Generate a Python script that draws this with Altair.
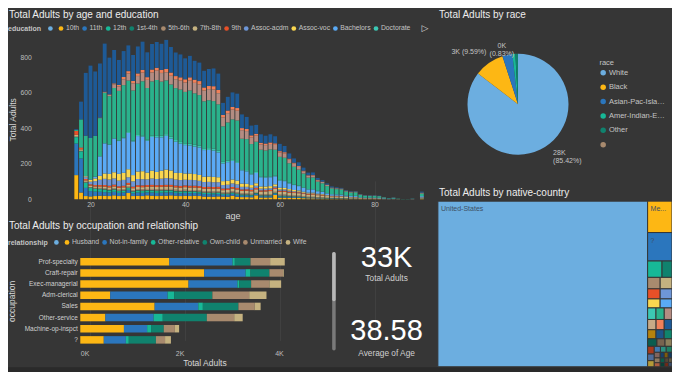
import math
import altair as alt
import pandas as pd

# ------------------------------------------------------------------ data
ages = list(range(17, 91))
education = ["", "10th", "11th", "12th", "1st-4th", "5th-6th", "7th-8th", "9th",
             "Assoc-acdm", "Assoc-voc", "Bachelors", "Doctorate", "HS-grad",
             "Masters", "Preschool", "Prof-school", "Some-college"]

edu_10th = [136, 38, 18, 16, 18, 20, 20, 18, 22, 18, 20, 35, 18, 20, 18, 22, 20, 18, 20, 20,
            22, 20, 18, 20, 18, 20, 18, 15, 15, 14, 16, 15, 14, 20, 14, 12, 12, 11, 22, 10,
            10, 10, 24, 9, 9, 8, 7, 7, 6, 5, 5, 4, 4, 3, 2, 2, 2, 2, 1, 1,
            1, 1, 1, 1, 1, 0, 0, 0, 0, 0, 0, 0, 0, 2]
edu_11th = [178, 192, 46, 30, 25, 22, 20, 20, 20, 18, 18, 18, 16, 18, 18, 17, 18, 18, 17, 18,
            17, 16, 16, 16, 16, 15, 15, 14, 14, 14, 13, 10, 11, 11, 11, 9, 9, 8, 8, 7,
            7, 7, 7, 6, 6, 5, 5, 4, 4, 3, 3, 3, 2, 2, 2, 2, 1, 1, 1, 1,
            0, 0, 0, 0, 0, 0, 0, 0, 0, 0, 0, 0, 0, 1]
edu_12th = [36, 40, 30, 18, 15, 15, 14, 12, 12, 10, 10, 10, 9, 10, 10, 9, 10, 10, 10, 10,
            9, 8, 8, 8, 8, 7, 7, 6, 6, 6, 6, 5, 5, 5, 5, 4, 4, 4, 3, 3,
            3, 3, 3, 3, 3, 2, 2, 2, 2, 1, 1, 1, 1, 1, 1, 1, 1, 1, 0, 0,
            0, 0, 0, 0, 0, 0, 0, 0, 0, 0, 0, 0, 0, 0]
edu_1st_4th = [1, 1, 1, 2, 2, 2, 2, 2, 2, 2, 2, 2, 2, 3, 3, 3, 3, 3, 3, 3,
               3, 3, 3, 3, 3, 3, 3, 3, 3, 3, 3, 2, 2, 2, 2, 2, 2, 2, 2, 2,
               2, 2, 2, 2, 2, 2, 2, 2, 1, 1, 1, 1, 1, 1, 1, 1, 1, 1, 1, 1,
               0, 0, 0, 0, 0, 0, 0, 0, 0, 0, 0, 0, 0, 1]
edu_5th_6th = [2, 2, 3, 3, 4, 5, 5, 5, 6, 6, 6, 6, 6, 6, 7, 7, 7, 7, 7, 7,
               7, 7, 7, 7, 7, 7, 7, 7, 7, 7, 7, 6, 6, 7, 7, 6, 6, 6, 6, 6,
               6, 7, 6, 6, 6, 5, 5, 5, 4, 4, 4, 3, 3, 2, 2, 2, 2, 1, 1, 1,
               1, 1, 1, 1, 1, 1, 0, 1, 0, 0, 0, 0, 0, 1]
edu_7th_8th = [10, 8, 8, 8, 8, 8, 10, 10, 10, 10, 11, 11, 11, 12, 12, 12, 13, 13, 13, 13,
               13, 13, 13, 14, 14, 14, 14, 14, 15, 15, 15, 13, 14, 15, 16, 14, 15, 14, 15, 15,
               16, 17, 16, 16, 16, 15, 14, 14, 13, 12, 13, 11, 10, 9, 8, 8, 8, 7, 6, 6,
               4, 3, 3, 3, 3, 2, 1, 1, 1, 0, 0, 1, 0, 3]
edu_9th = [22, 9, 8, 7, 8, 8, 9, 9, 10, 9, 9, 10, 9, 10, 10, 10, 10, 10, 10, 10,
           10, 10, 10, 10, 10, 10, 10, 10, 10, 10, 10, 9, 9, 9, 9, 8, 8, 8, 8, 7,
           7, 7, 7, 6, 6, 6, 5, 5, 4, 4, 4, 3, 3, 2, 2, 2, 2, 1, 1, 1,
           1, 1, 1, 1, 0, 0, 0, 0, 0, 0, 0, 0, 0, 1]
edu_assoc_acdm = [0, 2, 10, 15, 22, 30, 35, 35, 35, 32, 33, 32, 30, 35, 35, 32, 36, 35, 36, 38,
                  36, 34, 33, 32, 33, 32, 30, 28, 28, 27, 26, 20, 21, 20, 20, 15, 14, 12, 12, 10,
                  9, 9, 8, 7, 7, 6, 5, 4, 3, 3, 2, 2, 2, 1, 1, 1, 1, 1, 1, 1,
                  0, 0, 0, 0, 0, 0, 0, 0, 0, 0, 0, 0, 0, 1]
edu_assoc_voc = [0, 1, 5, 10, 15, 22, 30, 32, 35, 38, 40, 45, 35, 42, 45, 38, 44, 40, 45, 48,
                 45, 38, 40, 35, 36, 34, 33, 30, 30, 30, 28, 22, 22, 22, 21, 18, 17, 15, 14, 12,
                 12, 12, 11, 10, 9, 8, 7, 6, 5, 4, 4, 3, 3, 2, 1, 1, 1, 1, 1, 1,
                 1, 0, 0, 0, 0, 0, 0, 0, 0, 0, 0, 0, 0, 1]
edu_bachelors = [0, 0, 2, 3, 10, 110, 170, 165, 190, 185, 195, 205, 190, 200, 195, 180, 190, 195, 188, 190,
                 180, 175, 165, 160, 158, 155, 155, 150, 150, 148, 140, 100, 105, 105, 100, 75, 70, 60, 58, 52,
                 50, 50, 45, 40, 38, 32, 28, 25, 22, 18, 18, 14, 12, 10, 8, 7, 7, 5, 5, 5,
                 3, 3, 3, 3, 3, 2, 1, 2, 0, 0, 0, 1, 0, 6]
edu_doctorate = [0, 0, 0, 0, 0, 0, 0, 1, 2, 3, 4, 5, 5, 6, 7, 7, 8, 8, 9, 10,
                 10, 10, 10, 10, 10, 10, 10, 10, 10, 11, 11, 9, 9, 9, 9, 6, 7, 6, 6, 5,
                 5, 5, 5, 4, 4, 4, 3, 3, 3, 2, 2, 2, 2, 1, 1, 1, 1, 1, 1, 1,
                 0, 0, 0, 0, 0, 0, 0, 0, 0, 0, 0, 0, 0, 1]
edu_hs_grad = [6, 157, 226, 233, 230, 215, 285, 272, 283, 280, 295, 290, 282, 290, 305, 290, 305, 315, 305, 303,
               295, 292, 295, 290, 300, 290, 285, 265, 270, 268, 260, 200, 215, 225, 230, 172, 175, 165, 170, 150,
               148, 152, 145, 130, 128, 110, 100, 90, 78, 65, 66, 52, 47, 40, 32, 29, 28, 22, 19, 20,
               13, 10, 9, 9, 9, 5, 3, 4, 2, 1, 1, 1, 0, 14]
edu_masters = [0, 0, 0, 0, 0, 2, 4, 8, 20, 25, 33, 40, 40, 42, 48, 45, 50, 52, 48, 45,
               48, 50, 50, 52, 55, 58, 60, 60, 62, 65, 62, 50, 52, 55, 55, 48, 45, 38, 35, 30,
               30, 30, 28, 25, 24, 20, 18, 15, 12, 10, 10, 8, 7, 6, 4, 4, 4, 3, 3, 3,
               2, 2, 2, 2, 1, 1, 0, 1, 0, 0, 0, 0, 0, 3]
edu_preschool = [0, 0, 1, 0, 0, 1, 1, 0, 1, 0, 1, 0, 1, 1, 1, 1, 1, 1, 1, 1,
                 1, 1, 1, 1, 1, 1, 1, 1, 1, 1, 1, 0, 0, 0, 0, 0, 0, 0, 0, 0,
                 0, 0, 0, 0, 0, 0, 0, 0, 0, 0, 0, 0, 0, 0, 0, 0, 0, 0, 0, 0,
                 0, 0, 0, 0, 0, 0, 0, 0, 0, 0, 0, 0, 0, 0]
edu_prof_school = [0, 0, 0, 0, 0, 0, 1, 2, 5, 8, 12, 13, 13, 14, 15, 15, 16, 16, 17, 18,
                   18, 17, 18, 18, 18, 18, 18, 17, 17, 18, 18, 14, 15, 15, 15, 12, 12, 11, 10, 9,
                   9, 9, 8, 7, 7, 6, 5, 5, 4, 3, 3, 3, 2, 2, 1, 1, 1, 1, 1, 1,
                   1, 0, 0, 0, 0, 0, 0, 0, 0, 0, 0, 0, 0, 2]
edu_some_college = [4, 100, 354, 408, 363, 305, 271, 207, 188, 141, 146, 145, 146, 152, 159, 140, 144, 145, 147, 164,
                    144, 133, 129, 118, 121, 106, 104, 94, 96, 100, 92, 68, 77, 82, 81, 77, 68, 55, 50, 48,
                    44, 46, 40, 41, 35, 29, 24, 21, 17, 15, 15, 10, 9, 7, 6, 5, 4, 3, 3, 3,
                    2, 2, 2, 2, 2, 1, 1, 1, 0, 0, 0, 0, 0, 6]
edu_series = [edu_10th, edu_11th, edu_12th, edu_1st_4th, edu_5th_6th, edu_7th_8th, edu_9th,
              edu_assoc_acdm, edu_assoc_voc, edu_bachelors, edu_doctorate, edu_hs_grad,
              edu_masters, edu_preschool, edu_prof_school, edu_some_college]

occupations = ["Prof-specialty", "Craft-repair", "Exec-managerial", "Adm-clerical",
               "Sales", "Other-service", "Machine-op-inspct", "?"]
relationships = ["", "Husband", "Not-in-family", "Other-relative", "Own-child", "Unmarried", "Wife"]
rel_husband = [1793, 2494, 2179, 603, 1497, 505, 879, 473]
rel_not_in_family = [1273, 835, 985, 1156, 879, 972, 467, 445]
rel_other_relative = [46, 99, 40, 132, 92, 184, 79, 59]
rel_own_child = [316, 380, 236, 769, 716, 887, 256, 546]
rel_unmarried = [394, 276, 368, 741, 329, 551, 223, 184]
rel_wife = [295, 15, 236, 348, 118, 171, 86, 118]
rel_series = [rel_husband, rel_not_in_family, rel_other_relative, rel_own_child, rel_unmarried, rel_wife]

races = ["White", "Black", "Asian-Pac-Islander", "Amer-Indian-Eskimo", "Other", ""]
race_counts = [27816, 3124, 1039, 311, 271, 0]

countries = ["United-States", "Mexico", "?", "Philippines", "Germany", "Canada", "Puerto-Rico",
             "El-Salvador", "India", "Cuba", "England", "Jamaica", "South", "China", "Italy",
             "Dominican-Republic", "Vietnam", "Guatemala", "Japan", "Poland", "Columbia", "Taiwan",
             "Haiti", "Iran", "Portugal", "Nicaragua", "Peru", "France", "Greece", "Ecuador",
             "Ireland", "Hong", "Cambodia", "Trinadad&Tobago", "Laos", "Thailand", "Yugoslavia",
             "Outlying-US(Guam-USVI-etc)", "Honduras", "Hungary", "Scotland", "Holand-Netherlands"]
country_counts = [29170, 643, 583, 198, 137, 121, 114, 106, 100, 95, 90, 81, 80, 75, 73,
                  70, 67, 64, 62, 60, 59, 51, 44, 43, 37, 34, 31, 29, 29, 28,
                  24, 20, 19, 19, 18, 18, 16, 14, 13, 13, 12, 1]
country_labels = ["United-States", "Me...", "?"]

total_adults = 32561
average_age = 38.58

# ------------------------------------------------------------------ style / layout
W, H = 664, 364
BG = "#363636"
FONT = "Liberation Sans"
TITLE_C = "#EDEDED"
LABEL_C = "#C4C4C4"
palette = ["#6CAEE0", "#FDB714", "#2B76BD", "#17B897", "#10826E", "#A88A6E", "#C5B280",
           "#E85028", "#6E96D7", "#FAD750", "#5AAAF5", "#3CC8B4", "#2AB28C", "#B48C82",
           "#C8AA87", "#F0805A", "#1E5A96"]


def X(r):
    return round((r - 3) * W / 677, 2)


def Y(r):
    return round((r - 3) * H / 382, 2)


def shade(hx, f):
    r, g, b = int(hx[1:3], 16), int(hx[3:5], 16), int(hx[5:7], 16)
    return "#%02x%02x%02x" % (int(r * f), int(g * f), int(b * f))


country_colors = [palette[i] if i < 17 else shade(palette[(i - 17) % 16 + 1], 0.72 if i < 33 else 0.5)
                  for i in range(len(countries))]


def text_layer(txt, x, y, size, color=TITLE_C, align="left", baseline="alphabetic", font=FONT, weight="normal"):
    return alt.Chart(alt.Data(values=[{"t": txt}])).mark_text(
        align=align, baseline=baseline, fontSize=size, color=color, font=font, fontWeight=weight
    ).encode(text="t:N", x=alt.value(x), y=alt.value(y))


# ------------------------------------------------------------------ age x education
age_rows = [dict(age=a, education=e, edu_idx=i + 1, count=v)
            for i, (e, vals) in enumerate(zip(education[1:], edu_series))
            for a, v in zip(ages, vals) if v > 0]
age_df = pd.DataFrame(age_rows)

legend_common = dict(orient="none", direction="horizontal", titleOrient="left", titlePadding=5,
                     titleFontSize=7, titleFontWeight="bold", labelFontSize=6.8, symbolType="circle",
                     symbolSize=22, symbolStrokeWidth=0, labelOffset=1.5, columnPadding=1.6,
                     titleColor=LABEL_C, labelColor=LABEL_C)

age_bars = alt.Chart(age_df).mark_bar(size=3.85).encode(
    x=alt.X("age:Q",
            scale=alt.Scale(domain=[9, 91], range=[X(28.9), X(434.9)], nice=False, zero=False),
            axis=alt.Axis(orient="bottom", offset=Y(203.7) - H, values=[20, 40, 60, 80], title="age",
                          labelPadding=2, titlePadding=3, ticks=False, domain=False,
                          grid=True, gridColor="#424242", gridWidth=0.8,
                          labelFontSize=6.8, titleFontSize=9)),
    y=alt.Y("count:Q", stack="zero",
            scale=alt.Scale(domain=[0, 900], range=[Y(203.7), Y(36.1)], nice=False),
            axis=alt.Axis(orient="left", offset=-X(28.9), values=[0, 200, 400, 600, 800],
                          title="Total Adults", labelPadding=2, titlePadding=3, ticks=False,
                          domain=False, grid=False, labelFontSize=6.8, titleFontSize=8.5)),
    color=alt.Color("education:N",
                    scale=alt.Scale(domain=education, range=palette),
                    legend=alt.Legend(title="education", values=education[:12], columns=12,
                                      legendX=X(3), legendY=Y(20.5), **legend_common)),
    order=alt.Order("edu_idx:Q", sort="ascending"),
)

# ------------------------------------------------------------------ occupation x relationship
occ_rows = [dict(occupation=o, relationship=r, rel_idx=j + 1, count=v)
            for j, (r, vals) in enumerate(zip(relationships[1:], rel_series))
            for o, v in zip(occupations, vals)]
occ_df = pd.DataFrame(occ_rows)

occ_bars = alt.Chart(occ_df).mark_bar().encode(
    y=alt.Y("occupation:N", sort=occupations,
            scale=alt.Scale(range=[Y(263.4), Y(357.2)], paddingInner=0.33, paddingOuter=0.17),
            axis=alt.Axis(orient="left", offset=-X(76.7), title="occupation", labelPadding=3,
                          titlePadding=8, ticks=False, domain=False, grid=False,
                          labelFontSize=6.5, titleFontSize=8.5, labelColor="#D0D0D0")),
    x=alt.X("count:Q", stack="zero",
            scale=alt.Scale(domain=[0, 5000], range=[X(76.7), X(329.9)], nice=False),
            axis=alt.Axis(orient="bottom", offset=Y(357.2) - H, values=[0, 2000, 4000],
                          labelExpr="datum.value / 1000 + 'K'", title="Total Adults",
                          labelPadding=4, titlePadding=2, ticks=False, domain=False, grid=False,
                          labelFontSize=7, titleFontSize=8.5)),
    color=alt.Color("relationship:N",
                    scale=alt.Scale(domain=relationships, range=palette[:7]),
                    legend=alt.Legend(title="relationship", values=relationships, columns=7,
                                      legendX=X(3), legendY=Y(245), **legend_common)),
    order=alt.Order("rel_idx:Q", sort="ascending"),
)

# ------------------------------------------------------------------ race pie
race_total = sum(race_counts)
race_df = pd.DataFrame({
    "race": races, "count": race_counts, "race_idx": list(range(len(races))),
    "k": ["%dK" % round(c / 1000) for c in race_counts],
    "pct": ["(%.2f%%)" % (math.floor(10000 * c / race_total) / 100) for c in race_counts],
})
race_df["two_line"] = race_df["k"] + "\n" + race_df["pct"]
race_df["one_line"] = race_df["k"] + " " + race_df["pct"]
CX, CY = X(523), Y(104)

pie = alt.Chart(race_df).mark_arc(outerRadius=50.5).encode(
    theta=alt.Theta("count:Q", stack=True),
    color=alt.Color("race:N", scale=alt.Scale(domain=races, range=palette[:6]),
                    legend=alt.Legend(orient="none", legendX=X(606), legendY=Y(56), title="race",
                                      titleFontSize=7.5, titleFontWeight="normal", titlePadding=3,
                                      labelFontSize=7.5, labelLimit=56, symbolType="circle",
                                      symbolSize=30, symbolStrokeWidth=0, rowPadding=5.4,
                                      labelOffset=2, titleColor=LABEL_C, labelColor=LABEL_C)),
    order=alt.Order("race_idx:Q", sort="ascending"),
    x=alt.value(CX), y=alt.value(CY),
)


def pie_label(race, field, dx, dy, align):
    return alt.Chart(race_df).transform_calculate(
        lbl="datum.race == '%s' ? datum.%s : ''" % (race, field)
    ).mark_text(radius=64, dx=dx, dy=dy, align=align, baseline="middle", lineBreak="\n",
                lineHeight=8, fontSize=7, color=LABEL_C, font=FONT).encode(
        theta=alt.Theta("count:Q", stack=True),
        order=alt.Order("race_idx:Q", sort="ascending"),
        detail="race:N",
        text="lbl:N",
        x=alt.value(CX), y=alt.value(CY),
    )


pie_labels = [pie_label("White", "two_line", 6.8, -9.1, "left"),
              pie_label("Black", "one_line", -12.2, 0.4, "center"),
              pie_label("Other", "two_line", -14.5, 6.2, "center")]

# ------------------------------------------------------------------ country treemap


def _layout(sizes, x, y, dx, dy):
    covered = sum(sizes)
    out = []
    if dx >= dy:
        width = covered / dy
        for s in sizes:
            h = s / width
            out.append((x, y, width, h))
            y += h
    else:
        height = covered / dx
        for s in sizes:
            w = s / height
            out.append((x, y, w, height))
            x += w
    return out


def _leftover(sizes, x, y, dx, dy):
    covered = sum(sizes)
    if dx >= dy:
        width = covered / dy
        return x + width, y, dx - width, dy
    height = covered / dx
    return x, y + height, dx, dy - height


def _worst(sizes, x, y, dx, dy):
    return max(max(w / h, h / w) for (_, _, w, h) in _layout(sizes, x, y, dx, dy))


def squarify(sizes, x, y, dx, dy):
    if not sizes:
        return []
    if len(sizes) == 1:
        return _layout(sizes, x, y, dx, dy)
    i = 1
    while i < len(sizes) and _worst(sizes[:i], x, y, dx, dy) >= _worst(sizes[:i + 1], x, y, dx, dy):
        i += 1
    cur, rest = sizes[:i], sizes[i:]
    lx, ly, ldx, ldy = _leftover(cur, x, y, dx, dy)
    return _layout(cur, x, y, dx, dy) + squarify(rest, lx, ly, ldx, ldy)


TX0, TX1, TY0, TY1 = X(441.3), X(680), Y(205.7), Y(379.5)
TW, TH = TX1 - TX0, TY1 - TY0
ctot = sum(country_counts)
rects = squarify([c * TW * TH / ctot for c in country_counts], 0, 0, TW, TH)
tree_df = pd.DataFrame({
    "country": countries, "count": country_counts,
    "x0": [r[0] for r in rects], "x1": [r[0] + r[2] for r in rects],
    "y0": [r[1] for r in rects], "y1": [r[1] + r[3] for r in rects],
    "label": country_labels + [""] * (len(countries) - len(country_labels)),
})
tx = alt.Scale(domain=[0, TW], range=[TX0, TX1], nice=False, zero=False)
ty = alt.Scale(domain=[0, TH], range=[TY0, TY1], nice=False, zero=False)

tree = alt.Chart(tree_df).mark_rect(stroke=BG, strokeWidth=1).encode(
    x=alt.X("x0:Q", scale=tx, axis=None), x2="x1:Q",
    y=alt.Y("y0:Q", scale=ty, axis=None), y2="y1:Q",
    color=alt.Color("country:N", scale=alt.Scale(domain=countries, range=country_colors), legend=None),
)
tree_text = alt.Chart(tree_df).transform_filter("datum.label != ''").mark_text(
    align="left", baseline="top", dx=3, dy=4, fontSize=7, color="#3E5064", font=FONT
).encode(
    x=alt.X("x0:Q", scale=tx, axis=None),
    y=alt.Y("y0:Q", scale=ty, axis=None),
    text="label:N",
)

# ------------------------------------------------------------------ decorations / titles / KPIs
strip = alt.Chart(alt.Data(values=[{}])).mark_rect(color="#2A2A2A").encode(
    x=alt.value(0), x2=alt.value(W), y=alt.value(Y(380)), y2=alt.value(H))
scroll_track = alt.Chart(alt.Data(values=[{}])).mark_rule(color="#7A7A7A", strokeWidth=3.5, strokeCap="round").encode(
    x=alt.value(X(335.3)), y=alt.value(Y(261)), y2=alt.value(Y(360.5)))
scroll_thumb = alt.Chart(alt.Data(values=[{}])).mark_rule(color="#B8B8B8", strokeWidth=3.5, strokeCap="round").encode(
    x=alt.value(X(335.3)), y=alt.value(Y(261)), y2=alt.value(Y(309)))

titles = [
    text_layer("Total Adults by age and education", X(4), 9.8, 10),
    text_layer("Total Adults by occupation and relationship", X(4), Y(235), 10),
    text_layer("Total Adults by race", X(442.5), 9.8, 10),
    text_layer("Total Adults by native-country", X(442.5), Y(200), 10),
    text_layer("\u25B7", X(428), Y(24), 9, color="#D8D8D8", align="center", baseline="middle", font="DejaVu Sans"),
]
kpis = [
    text_layer("%dK" % round(total_adults / 1000), X(389), Y(275), 29, color="#FFFFFF", align="center"),
    text_layer("Total Adults", X(389), Y(289.5), 8.3, color="#D0D0D0", align="center"),
    text_layer("%.2f" % average_age, X(389), Y(351.7), 29, color="#FFFFFF", align="center"),
    text_layer("Average of Age", X(389), Y(368.3), 8.3, color="#D0D0D0", align="center"),
]

chart = alt.layer(
    strip, age_bars, occ_bars, pie, *pie_labels, tree, tree_text, scroll_track, scroll_thumb,
    *titles, *kpis
).resolve_scale(
    x="independent", y="independent", color="independent"
).properties(
    width=W, height=H, padding=0, background=BG,
    autosize=alt.AutoSizeParams(type="none"),
).configure_view(
    strokeWidth=0
).configure_axis(
    labelFont=FONT, titleFont=FONT, labelColor="#BDBDBD", titleColor="#D6D6D6",
    titleFontWeight="normal"
).configure_legend(
    labelFont=FONT, titleFont=FONT
).configure_text(
    font=FONT
)

chart.save("out.html", embed_options={"renderer": "svg", "actions": False})
